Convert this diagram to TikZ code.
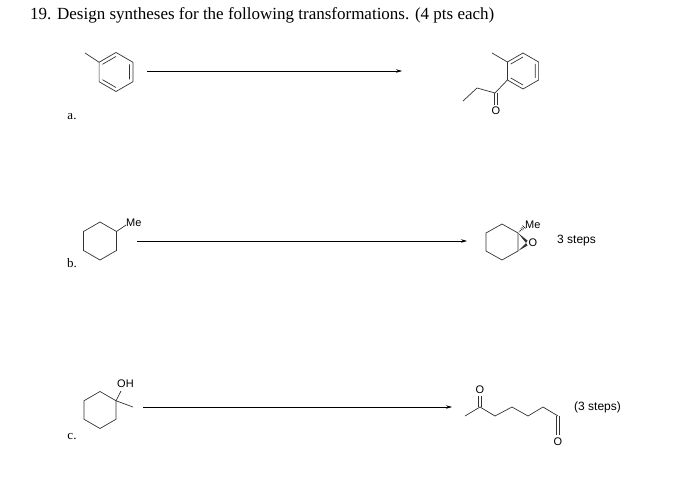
\documentclass[tikz,border=0pt]{standalone}
\usepackage{fontspec}
\setmainfont{Liberation Serif}
\setsansfont{Liberation Sans}
\usetikzlibrary{arrows.meta,calc}
\begin{document}
\begin{tikzpicture}[x=1pt,y=-1pt,
  bnd/.style={line width=0.7pt,draw=black!80},
  rxn/.style={line width=0.6pt,-{Stealth[length=6pt,width=3.5pt]}},
  lab/.style={font=\sffamily\fontsize{11}{13}\selectfont,inner sep=0pt},
  ttl/.style={font=\fontsize{17}{19}\selectfont,inner sep=0pt}]
\useasboundingbox (0,0) rectangle (700,494);
\node[ttl,anchor=west] (title) at (30,15) {19. Design syntheses for the following transformations. (4 pts each)};
\node[ttl,font=\fontsize{13}{15}\selectfont] (la) at (72,117) {a.};
\node[ttl,font=\fontsize{13}{15}\selectfont] (lb) at (72,263) {b.};
\node[ttl,font=\fontsize{13}{15}\selectfont] (lc) at (72,437) {c.};
% a. toluene
\draw[bnd] (116,52.5)--(132.9,62.25)--(132.9,81.75)--(116,91.5)--(99.1,81.75)--(99.1,62.25)--cycle;
\draw[bnd] (129.5,64.5)--(129.5,79.5) (116,87.5)--(102.5,79.7) (102.5,64.3)--(116,56.5);
\draw[bnd] (99.1,62.25)--(85,53);
\coordinate (a1) at (147,71); \coordinate (a2) at (402,71);
\draw[rxn] (a1)--(a2);
% a. product
\draw[bnd] (523,53)--(538.6,62)--(538.6,80)--(523,89)--(507.4,80)--(507.4,62)--cycle;
\draw[bnd] (535.2,64)--(535.2,78) (523,85)--(510.8,78) (510.8,64)--(523,57);
\draw[bnd] (507.4,62)--(492,53);
\draw[bnd] (507.4,80)--(495,93)--(477,88)--(463,101);
\draw[bnd] (494,93)--(494,105) (497.5,93)--(497.5,105);
\node[lab] (oa) at (496,111) {O};
% b. methylcyclohexane
\draw[bnd] (100,222)--(116.5,231.5)--(116.5,250.5)--(100,260)--(83.5,250.5)--(83.5,231.5)--cycle;
\draw[bnd] (116.5,231.5)--(126,225);
\node[lab,anchor=west] (meb) at (126,223) {Me};
\coordinate (b1) at (137,241); \coordinate (b2) at (467,241);
\draw[rxn] (b1)--(b2);
% b. epoxide
\draw[bnd] (502,224)--(518,233)--(518,251)--(502,260)--(486,251)--(486,233)--cycle;
\node[lab] (ob) at (533,243) {O};
\fill[black!80] (518,233)--(527.5,240.5)--(526,243)--cycle;
\fill[black!80] (518,251)--(527.5,245.5)--(526,243)--cycle;
\foreach \t in {0.2,0.4,0.6,0.8,1.0}
  \draw[line width=0.5pt] ($(518,233)!\t!(524,227)$) ++(-1.5*\t,-1.5*\t) -- ++(3*\t,3*\t);
\node[lab,anchor=west] (meb2) at (525,225) {Me};
\node[lab,font=\sffamily\fontsize{12}{14}\selectfont,anchor=west] (sb) at (557,241) {3 steps};
% c. 1-methylcyclohexanol
\draw[bnd] (100,391.5)--(116,400.75)--(116,419.25)--(100,428.5)--(84,419.25)--(84,400.75)--cycle;
\draw[bnd] (116,400.75)--(133,407);
\draw[bnd] (116,400.75)--(121,391);
\node[lab,anchor=west] (ohc) at (117,384) {OH};
\coordinate (c1) at (143,407); \coordinate (c2) at (452,407);
\draw[rxn] (c1)--(c2);
% c. product
\draw[bnd] (465,416)--(480,407)--(495,416)--(512,407)--(528,416)--(543,407)--(558,416);
\draw[bnd] (478.3,407)--(478.3,396) (481.7,407)--(481.7,396);
\node[lab] (oc1) at (480,390) {O};
\draw[bnd] (556.3,416)--(556.3,435) (559.7,416)--(559.7,435);
\node[lab] (oc2) at (558,442) {O};
\node[lab,font=\sffamily\fontsize{12}{14}\selectfont,anchor=west] (sc) at (574,407) {(3 steps)};
\end{tikzpicture}
\end{document}
